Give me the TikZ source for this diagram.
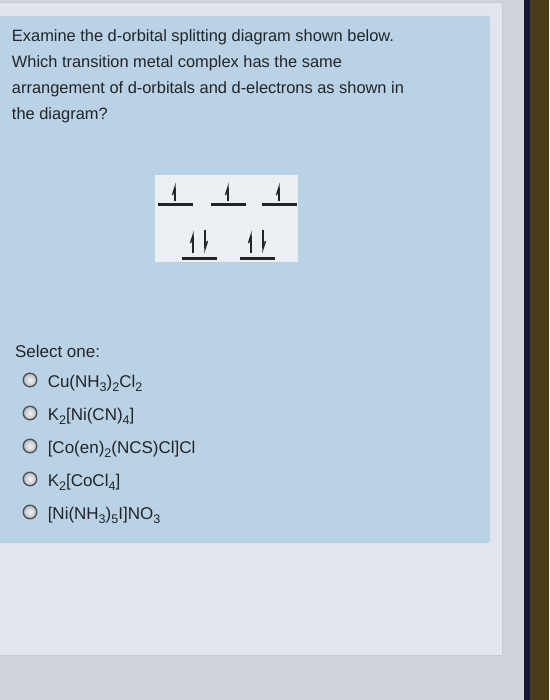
\documentclass[tikz,border=0pt]{standalone}
\usepackage{fontspec}
\setmainfont{Liberation Sans}
\usetikzlibrary{arrows.meta,positioning}
\definecolor{screen}{RGB}{208,211,218}
\definecolor{panel}{RGB}{226,229,235}
\definecolor{panelline}{RGB}{198,201,209}
\definecolor{quiz}{RGB}{185,210,229}
\definecolor{diag}{RGB}{236,240,244}
\definecolor{bezel}{RGB}{22,26,48}
\definecolor{desk}{RGB}{74,60,24}
\definecolor{ink}{RGB}{34,36,40}
\definecolor{radioedge}{RGB}{78,82,88}
\definecolor{radiofill}{RGB}{185,189,196}
\newcommand{\chemsub}[1]{\raisebox{-0.45ex}{\fontsize{12.5}{13}\selectfont #1}}
\tikzset{
  question/.style = {anchor=base west, inner sep=0pt, text=ink,
                     font=\fontsize{16.4}{19}\selectfont},
  answer/.style   = {anchor=west, inner sep=0pt, text=ink,
                     text height=14pt, text depth=0pt,
                     font=\fontsize{17}{20}\selectfont},
  radio/.style    = {circle, draw=radioedge, line width=1.4pt,
                     inner color=white!80!radiofill, outer color=radiofill,
                     minimum size=13.5pt, inner sep=0pt},
  orbital/.style  = {rectangle, fill=ink, inner sep=0pt,
                     minimum width=35pt, minimum height=3pt},
  spin/.style     = {draw=ink, line width=1.4pt,
                     -{Straight Barb[left,length=8pt,width=5pt]}}
}
\begin{document}
\begin{tikzpicture}
  [
    x=1pt, y=1pt,
    every node/.style = {outer sep=0pt}
  ]
  \useasboundingbox (0,0) rectangle (549,-700);
  \fill[screen] (0,0) rectangle (549,-700);
  \fill[panel] (0,-3) rectangle (502,-655);
  \draw[panelline, line width=1pt] (0,-3) -- (502,-3) -- (502,-655) -- (0,-655);
  \fill[quiz, rounded corners=2pt] (-5,-16) rectangle (490,-543);
  \fill[bezel] (524,0) rectangle (530,-700);
  \fill[desk] (530,0) rectangle (549,-700);

  \node[question] (q1) at (12,-42)  {Examine the d-orbital splitting diagram shown below.};
  \node[question] (q2) at (12,-68)  {Which transition metal complex has the same};
  \node[question] (q3) at (12,-94)  {arrangement of d-orbitals and d-electrons as shown in};
  \node[question] (q4) at (12,-120) {the diagram?};

  \fill[diag] (155,-175) rectangle (298,-262);
  \node[orbital] (t1) at (175,-205) {};
  \node[orbital] (t2) at (228,-205) {};
  \node[orbital] (t3) at (279,-205) {};
  \node[orbital] (e1) at (199,-258) {};
  \node[orbital] (e2) at (257,-258) {};
  \foreach \o in {t1,t2,t3}
    \draw[spin] ([yshift=2pt]\o.north) -- ++(0,19);
  \foreach \o in {e1,e2} {
    \draw[spin] ([xshift=-6pt,yshift=3pt]\o.north) -- ++(0,23);
    \draw[spin] ([xshift=6pt,yshift=26pt]\o.north) -- ++(0,-23);
  }

  \node[question, font=\fontsize{17}{20}\selectfont] (sel) at (15,-357) {Select one:};
  \node[radio] (r1) at (30,-380) {};
  \node[radio] (r2) at (30,-413) {};
  \node[radio] (r3) at (30,-446) {};
  \node[radio] (r4) at (30,-479) {};
  \node[radio] (r5) at (30,-512) {};
  \node[answer, right=11pt of r1] (a1) {Cu(NH\chemsub{3})\chemsub{2}Cl\chemsub{2}};
  \node[answer, right=11pt of r2] (a2) {K\chemsub{2}[Ni(CN)\chemsub{4}]};
  \node[answer, right=11pt of r3] (a3) {[Co(en)\chemsub{2}(NCS)Cl]Cl};
  \node[answer, right=11pt of r4] (a4) {K\chemsub{2}[CoCl\chemsub{4}]};
  \node[answer, right=11pt of r5] (a5) {[Ni(NH\chemsub{3})\chemsub{5}I]NO\chemsub{3}};
\end{tikzpicture}
\end{document}
